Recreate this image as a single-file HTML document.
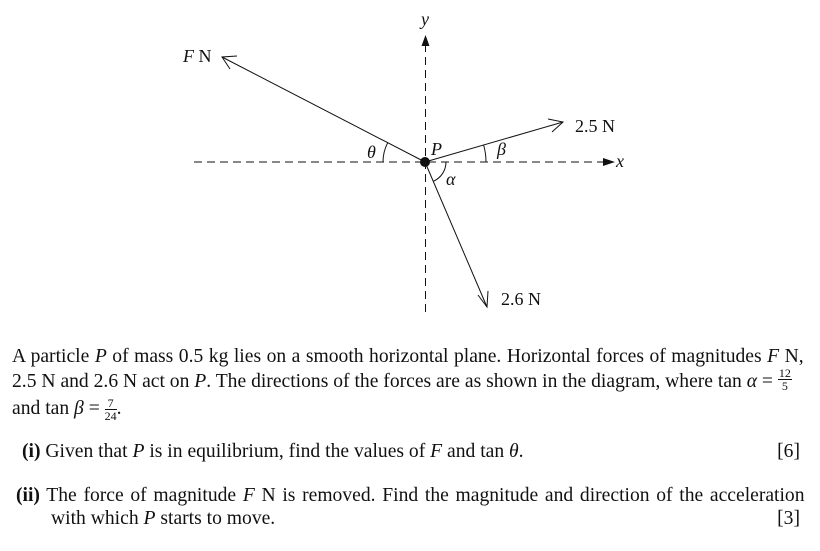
<!DOCTYPE html>
<html><head><meta charset="utf-8"><style>
body{margin:0;background:#fff;width:820px;height:551px;overflow:hidden;position:relative;font-family:"Liberation Serif",serif;color:#111}
.t{position:absolute;font-size:19.6px;white-space:nowrap;line-height:1}
i{font-style:italic}
.fr{display:inline-block;vertical-align:middle;text-align:center;font-size:12px;line-height:1}
.fr span{display:block}
.fr .n{border-bottom:1px solid #111;padding:0 1px}
</style></head><body>
<svg width="820" height="551" style="position:absolute;left:0;top:0" font-family="Liberation Serif, serif">
<g stroke="#111" stroke-width="1" fill="none">
<line x1="194" y1="162" x2="606" y2="162" stroke-dasharray="8,5"/>
<line x1="425.5" y1="44" x2="425.5" y2="316" stroke-dasharray="8,5"/>
<line x1="425" y1="162" x2="222" y2="57"/>
<polyline points="237,56 222,57 230,69"/>
<line x1="425" y1="162" x2="563" y2="122"/>
<polyline points="548,119 563,122 552,132"/>
<line x1="425" y1="162" x2="487" y2="307"/>
<polyline points="478,295 487,307 488,291"/>
<path d="M383,162 A42,42 0 0 1 387.7,142.7"/>
<path d="M486,162 A61,61 0 0 0 483.6,145"/>
<path d="M446,162 A21,21 0 0 1 433.3,181.3"/>
</g>
<polygon points="615,162 603,158 603,166" fill="#111"/>
<polygon points="425.5,35 421.5,46 429.5,46" fill="#111"/>
<circle cx="425" cy="162" r="5" fill="#111"/>
<g font-size="18" fill="#111">
<text x="183" y="62"><tspan font-style="italic">F</tspan> N</text>
<text x="575" y="132">2.5 N</text>
<text x="501" y="305">2.6 N</text>
<text x="616" y="167" font-style="italic">x</text>
<text x="421" y="25" font-style="italic">y</text>
<text x="431" y="155" font-style="italic">P</text>
<text x="367" y="158" font-style="italic">θ</text>
<text x="497" y="155" font-style="italic">β</text>
<text x="446" y="185" font-style="italic">α</text>
</g>
</svg>
<div class="t" style="left:12px;top:347px;word-spacing:0.6px">A particle <i>P</i> of mass 0.5 kg lies on a smooth horizontal plane. Horizontal forces of magnitudes <i>F</i> N,</div>
<div class="t" style="left:12px;top:372px">2.5 N and 2.6 N act on <i>P</i>. The directions of the forces are as shown in the diagram, where tan <i>α</i> = <span class="fr" style="margin-top:-6px"><span class="n">12</span><span>5</span></span></div>
<div class="t" style="left:12px;top:397px">and tan <i>β</i> = <span class="fr"><span class="n">7</span><span>24</span></span>.</div>
<div class="t" style="left:22px;top:442px"><b>(i)</b> Given that <i>P</i> is in equilibrium, find the values of <i>F</i> and tan <i>θ</i>.</div>
<div class="t" style="right:20px;top:442px">[6]</div>
<div class="t" style="left:16px;top:486px;word-spacing:1.8px"><b>(ii)</b> The force of magnitude <i>F</i> N is removed. Find the magnitude and direction of the acceleration</div>
<div class="t" style="left:51px;top:509px">with which <i>P</i> starts to move.</div>
<div class="t" style="right:20px;top:509px">[3]</div>
</body></html>
